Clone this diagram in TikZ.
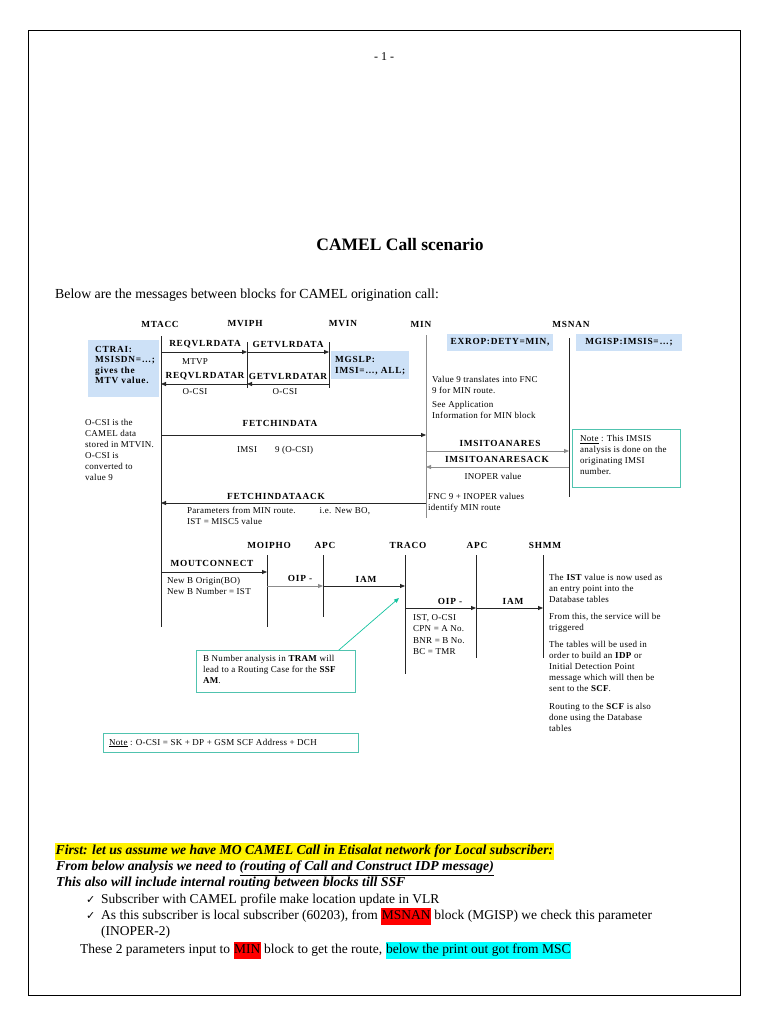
\documentclass[tikz,border=0pt]{standalone}
\usepackage{fontspec}
\setmainfont{Liberation Serif}
\newfontfamily\lblfont[LetterSpace=8]{Liberation Serif}
\newfontfamily\dfont[LetterSpace=3]{Liberation Serif}
\newfontfamily\symfont{DejaVu Sans}
\usetikzlibrary{arrows.meta,calc}
\definecolor{boxblue}{RGB}{205,225,247}
\definecolor{noteteal}{RGB}{80,195,175}
\definecolor{arrteal}{RGB}{20,195,160}
\definecolor{hlcyan}{RGB}{0,255,255}
\setlength{\fboxsep}{0.5pt}
\begin{document}
\begin{tikzpicture}[x=1pt,y=-1pt,
  lifeline/.style={line width=0.8pt, black!85},
  glifeline/.style={line width=0.8pt, black!45},
  msg/.style={line width=0.8pt, black!85, -{Triangle[length=5pt,width=4pt]}},
  gmsg/.style={line width=0.8pt, black!45, -{Triangle[length=5pt,width=4pt]}},
  lbl/.style={font=\lblfont\bfseries\fontsize{9.3}{11}\selectfont, inner sep=0pt},
  dtxt/.style={font=\dfont\fontsize{9}{11}\selectfont, inner sep=0pt, align=left, anchor=north west},
  bluebox/.style={fill=boxblue, draw=none, inner sep=0pt},
  notebox/.style={draw=noteteal, line width=0.9pt, fill=white, inner sep=0pt},
  body/.style={font=\fontsize{13.5}{16}\selectfont, inner sep=0pt, anchor=base west},
  bodybi/.style={body, font=\bfseries\itshape\fontsize{13.7}{16}\selectfont},
  tealarrow/.style={draw=arrteal, line width=0.7pt, -{Triangle[length=5pt,width=4pt]}}
]
\useasboundingbox (0,0) rectangle (768,1024);
\fill[white] (0,0) rectangle (768,1024);
\node[draw, line width=1pt, minimum width=712pt, minimum height=965pt, anchor=north west, inner sep=0pt] (page) at (28,30) {};

\node[font=\fontsize{12}{14}\selectfont, inner sep=0pt] (pnum) at (384,57) {- 1 -};
\node[font=\bfseries\fontsize{17.5}{20}\selectfont, inner sep=0pt] (title) at (400,245) {CAMEL Call scenario};
\node[body, font=\fontsize{13.8}{16}\selectfont] (intro) at (55,298) {Below are the messages between blocks for CAMEL origination call:};

% ---------- lifeline heads
\node[lbl] (hmtacc) at (160,324) {MTACC};
\node[lbl] (hmviph) at (245,324) {MVIPH};
\node[lbl] (hmvin) at (343,324) {MVIN};
\node[lbl] (hmin) at (421,324) {MIN};
\node[lbl] (hmsnan) at (571,324) {MSNAN};

\coordinate (mtaccT) at (161,336); \coordinate (mtaccB) at (161,627);
\coordinate (mviphT) at (247,342); \coordinate (mviphB) at (247,388);
\coordinate (mvinT) at (329,342); \coordinate (mvinB) at (329,388);
\coordinate (minT) at (426,335); \coordinate (minB) at (426,518);
\coordinate (msnanT) at (569,338); \coordinate (msnanB) at (569,497);
\draw[lifeline] (mtaccT) -- (mtaccB);
\draw[lifeline] (mviphT) -- (mviphB);
\draw[lifeline] (mvinT) -- (mvinB);
\draw[glifeline] (minT) -- (minB);
\draw[lifeline] (msnanT) -- (msnanB);

% ---------- boxes
\node[bluebox, minimum width=71pt, minimum height=57pt, anchor=north west] (ctrai) at (88,340) {};
\node[lbl, align=left, anchor=north west, font=\lblfont\bfseries\fontsize{9.3}{10.5}\selectfont] (ctraitxt) at ($(ctrai.north west)+(7,6)$) {CTRAI:\\MSISDN=\dots;\\gives the\\MTV value.};
\node[bluebox, minimum width=78pt, minimum height=28pt, anchor=north west] (mgslp) at (331,351) {};
\node[lbl, align=left, anchor=north west, font=\lblfont\bfseries\fontsize{9.3}{11}\selectfont] (mgslptxt) at ($(mgslp.north west)+(4,5)$) {MGSLP:\\IMSI=\dots, ALL;};
\node[bluebox, lbl, minimum width=106pt, minimum height=17pt] (exrop) at (500,342) {EXROP:DETY=MIN,};
\node[bluebox, lbl, minimum width=106pt, minimum height=17pt] (mgisp) at (629,342) {MGISP:IMSIS=\dots;};

% ---------- messages part 1
\draw[msg] (mtaccT |- 0,352) -- (mviphT |- 0,352);
\node[lbl] (m1) at (205,344) {REQVLRDATA};
\draw[msg] (mviphT |- 0,352) -- (mvinT |- 0,352);
\node[lbl] (m2) at (288,344) {GETVLRDATA};
\node[dtxt, anchor=center] (mtvp) at (195,362) {MTVP};
\draw[msg] (mviphT |- 0,384) -- (mtaccT |- 0,384);
\node[lbl] (m3) at (205,376) {REQVLRDATAR};
\draw[msg] (mvinT |- 0,384) -- (mviphT |- 0,384);
\node[lbl] (m4) at (288,376) {GETVLRDATAR};
\node[dtxt, anchor=center] (ocsi1) at (195,392) {O-CSI};
\node[dtxt, anchor=center] (ocsi2) at (285,392) {O-CSI};

\node[dtxt] (ocsitxt) at (85,419.5) {O-CSI is the\\CAMEL data\\stored in MTVIN.\\O-CSI is\\converted to\\value 9};
\node[dtxt] (valtxt) at (432,376) {Value 9 translates into FNC\\9 for MIN route.};
\node[dtxt] (seetxt) at (432,401) {See Application\\Information for MIN block};

\draw[msg] (mtaccT |- 0,435) -- (minT |- 0,435);
\node[lbl] (m5) at (280,423) {FETCHINDATA};
\node[dtxt, anchor=west] (imsi) at (237,450) {IMSI\hspace{18pt}9 (O-CSI)};

\draw[gmsg] (minT |- 0,451) -- (msnanT |- 0,451);
\node[lbl] (m6) at (500,443) {IMSITOANARES};
\draw[gmsg] (msnanT |- 0,467) -- (minT |- 0,467);
\node[lbl] (m7) at (497,459) {IMSITOANARESACK};
\node[dtxt, anchor=center] (inoper) at (493,476) {INOPER value};

\node[notebox, minimum width=108pt, minimum height=58pt, anchor=north west] (note1) at (572,429) {};
\node[dtxt] (note1txt) at ($(note1.north west)+(8,6.5)$) {\underline{Note} : This IMSIS\\analysis is done on the\\originating IMSI\\number.};

\node[dtxt] (fnctxt) at (428,493) {FNC 9 + INOPER values\\identify MIN route};
\draw[msg] (minT |- 0,503) -- (mtaccT |- 0,503);
\node[lbl] (m8) at (276,496) {FETCHINDATAACK};
\node[dtxt] (paramtxt) at (187,507) {Parameters from MIN route.\hspace{24pt}i.e. New BO,\\IST = MISC5 value};

% ---------- part 2
\node[lbl] (hmoipho) at (269,545) {MOIPHO};
\node[lbl] (hapc1) at (325,545) {APC};
\node[lbl] (htraco) at (408,545) {TRACO};
\node[lbl] (hapc2) at (477,545) {APC};
\node[lbl] (hshmm) at (545,545) {SHMM};

\coordinate (moiphoT) at (267,555); \coordinate (moiphoB) at (267,627);
\coordinate (apcaT) at (323,555); \coordinate (apcaB) at (323,617);
\coordinate (tracoT) at (405,555); \coordinate (tracoB) at (405,674);
\coordinate (apcbT) at (476,555); \coordinate (apcbB) at (476,658);
\coordinate (shmmT) at (543,555); \coordinate (shmmB) at (543,658);
\draw[lifeline] (moiphoT) -- (moiphoB);
\draw[lifeline] (apcaT) -- (apcaB);
\draw[lifeline] (tracoT) -- (tracoB);
\draw[lifeline] (apcbT) -- (apcbB);
\draw[lifeline] (shmmT) -- (shmmB);

\draw[msg] (mtaccT |- 0,572) -- (moiphoT |- 0,572);
\node[lbl] (m9) at (212,563) {MOUTCONNECT};
\node[dtxt] (newbtxt) at (167,577) {New B Origin(BO)\\New B Number = IST};
\draw[gmsg] (moiphoT |- 0,586) -- (apcaT |- 0,586);
\node[lbl] (m10) at (300,578) {OIP -};
\draw[msg] (apcaT |- 0,586) -- (tracoT |- 0,586);
\node[lbl] (m11) at (366,579) {IAM};
\draw[msg] (tracoT |- 0,608) -- (apcbT |- 0,608);
\node[lbl] (m12) at (450,601) {OIP -};
\draw[msg] (apcbT |- 0,608) -- (shmmT |- 0,608);
\node[lbl] (m13) at (513,601) {IAM};
\node[dtxt, font=\dfont\fontsize{9}{11.5}\selectfont] (isttxt) at (413,614) {IST, O-CSI\\CPN = A No.\\BNR = B No.\\BC = TMR};

\node[dtxt] (shmm1) at (549,574) {The \textbf{IST} value is now used as\\an entry point into the\\Database tables};
\node[dtxt] (shmm2) at (549,613) {From this, the service will be\\triggered};
\node[dtxt] (shmm3) at (549,641) {The tables will be used in\\order to build an \textbf{IDP} or\\Initial Detection Point\\message which will then be\\sent to the \textbf{SCF}.};
\node[dtxt] (shmm4) at (549,703) {Routing to the \textbf{SCF} is also\\done using the Database\\tables};

\node[notebox, minimum width=159pt, minimum height=42pt, anchor=north west] (bnum) at (196,650) {};
\node[dtxt] (bnumtxt) at ($(bnum.north west)+(7,5.5)$) {B Number analysis in \textbf{TRAM} will\\lead to a Routing Case for the \textbf{SSF}\\\textbf{AM}.};
\coordinate (tealend) at (399,598);
\draw[tealarrow] ($(bnum.north east)+(-17,0)$) -- (tealend);

\node[notebox, minimum width=255pt, minimum height=19pt, anchor=north west] (note2) at (103,733) {};
\node[dtxt, anchor=west] (note2txt) at ($(note2.west)+(6,0)$) {\underline{Note} : O-CSI = SK + DP + GSM SCF Address + DCH};

% ---------- bottom text
\node[bodybi] (b1) at (55,854.5) {\colorbox{yellow}{\strut First: let us assume we have MO CAMEL Call in Etisalat network for Local subscriber:}};
\node[bodybi] (b2) at (56,870.5) {From below analysis we need to \underline{(routing of Call and Construct IDP message)}};
\node[bodybi] (b3) at (56,886.5) {This also will include internal routing between blocks till SSF};
\node[body, font=\symfont\fontsize{11}{16}\selectfont] (ck1) at (86,903.5) {✓};
\node[body] (b4) at (101,903.5) {Subscriber with CAMEL profile make location update in VLR};
\node[body, font=\symfont\fontsize{11}{16}\selectfont] (ck2) at (86,919.5) {✓};
\node[body] (b5) at (101,919.5) {As this subscriber is local subscriber (60203), from \colorbox{red}{\strut MSNAN} block (MGISP) we check this parameter};
\node[body] (b6) at (101,935.5) {(INOPER-2)};
\node[body] (b7) at (80,953.5) {These 2 parameters input to \colorbox{red}{\strut MIN} block to get the route, \colorbox{hlcyan}{\strut below the print out got from MSC}};
\end{tikzpicture}
\end{document}
